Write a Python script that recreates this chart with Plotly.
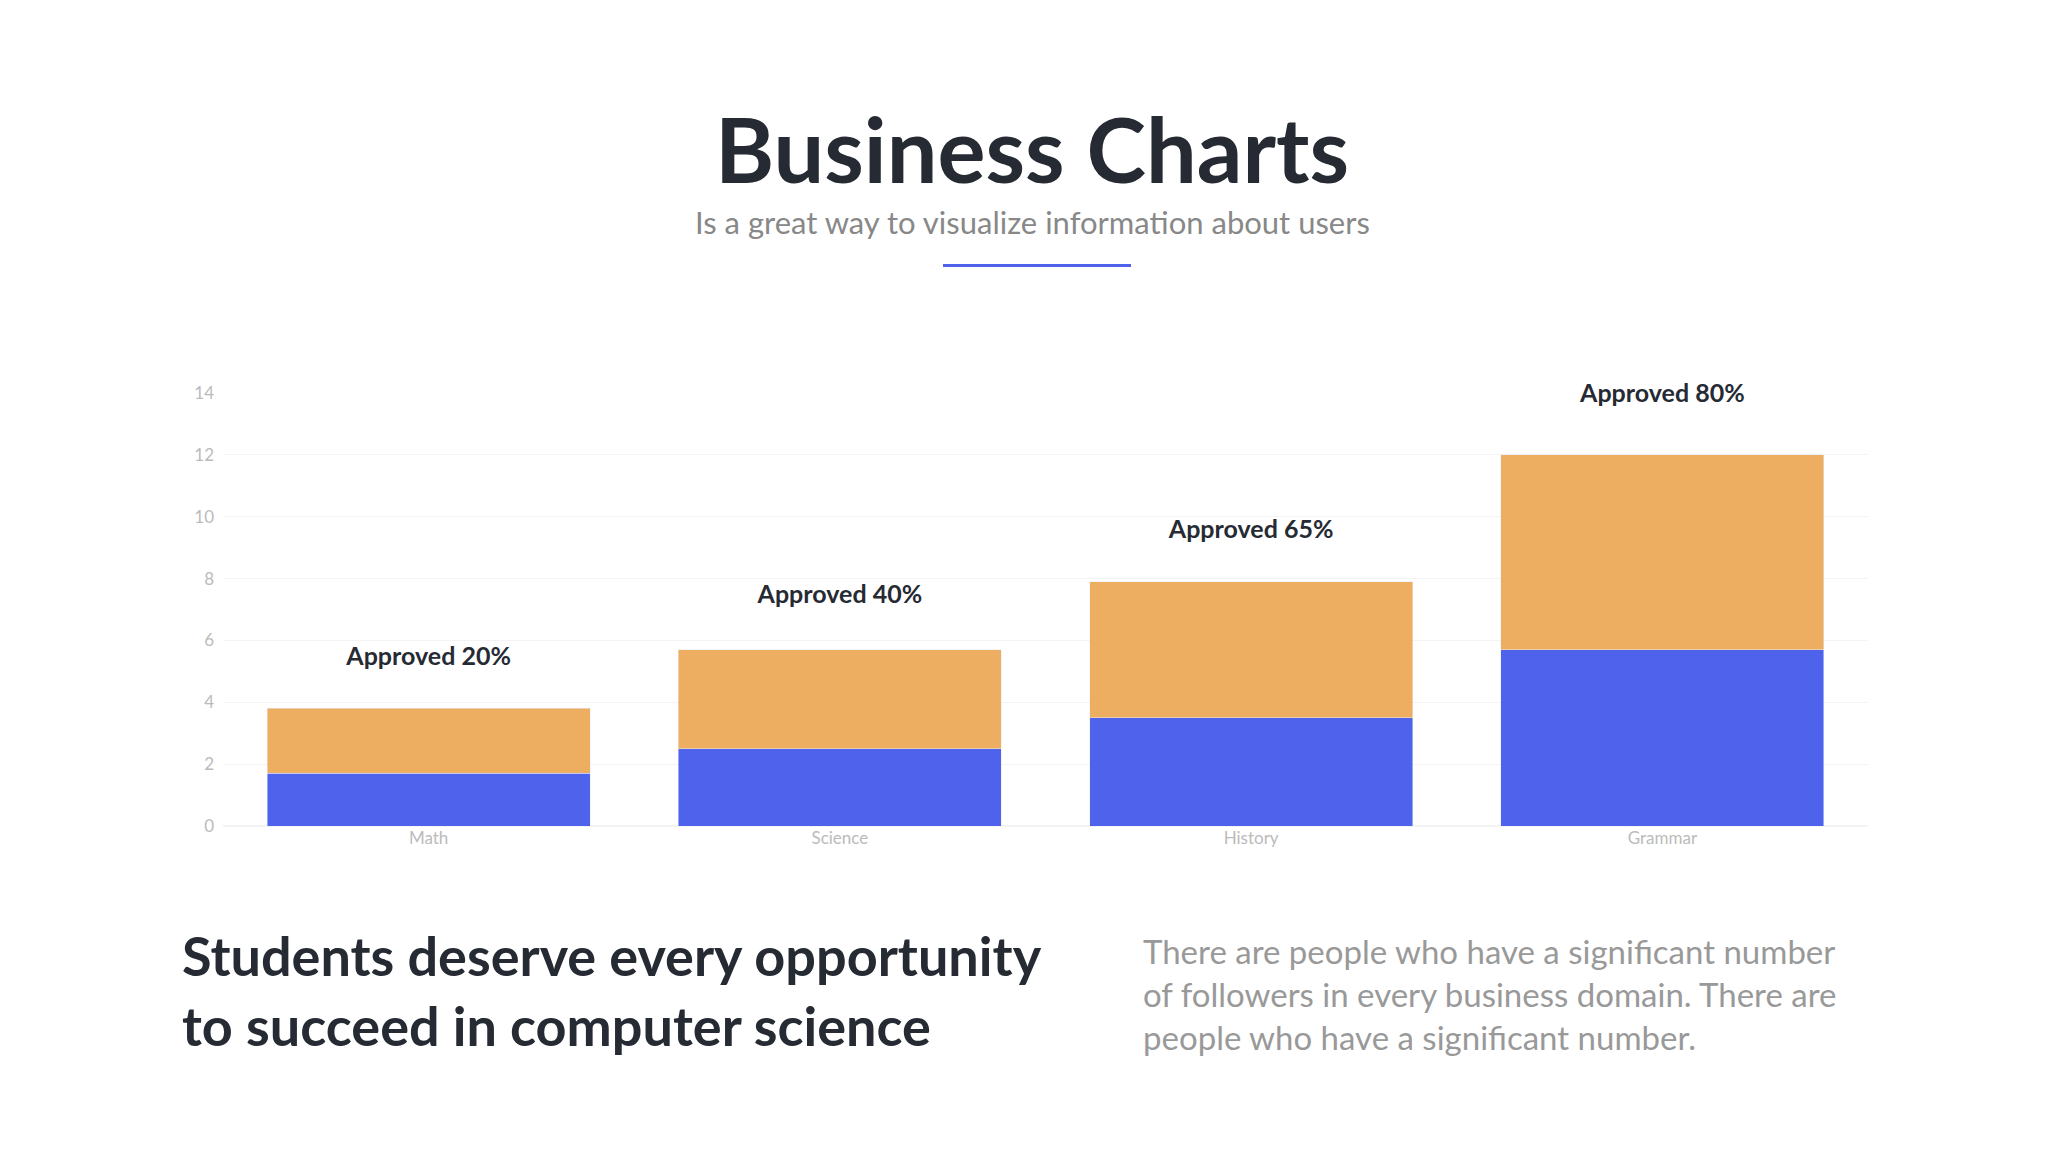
import plotly.graph_objects as go

subjects = ["Math", "Science", "History", "Grammar"]
blue_vals = [1.7, 2.5, 3.5, 5.7]
orange_vals = [2.1, 3.2, 4.4, 6.3]
approved = ["Approved 20%", "Approved 40%", "Approved 65%", "Approved 80%"]
label_y = [5.4, 7.4, 9.5, 13.9]

fig = go.Figure()
fig.add_trace(go.Bar(x=subjects, y=blue_vals, marker_color="#4F62EC", hoverinfo="skip"))
fig.add_trace(go.Bar(x=subjects, y=orange_vals, marker_color="#EEAE62", hoverinfo="skip"))
fig.add_trace(go.Scatter(x=subjects, y=label_y, mode="text", text=approved, cliponaxis=False,
                         textfont=dict(family="Lato", size=25, color="#252A33", weight="bold"),
                         hoverinfo="skip"))

fig.update_layout(
    width=2048, height=1152, barmode="stack", bargap=0.215, showlegend=False,
    plot_bgcolor="white", paper_bgcolor="white",
    margin=dict(l=0, r=0, t=0, b=0),
    xaxis=dict(domain=[215/2048, 1860/2048], showgrid=False, showline=False,
               tickfont=dict(family="Lato", size=17, color="#BBBBBB")),
    yaxis=dict(domain=[1 - 822/1152, 1 - 381/1152], range=[0, 14], dtick=2,
               gridcolor="#F3F3F3", zeroline=True, zerolinecolor="#F3F3F3",
               tickfont=dict(family="Lato", size=17, color="#BBBBBB"), ticklabelstandoff=8),
)

fig.add_annotation(text="<b>Business Charts</b>", x=0.5, y=1 - 131/1152, xref="paper", yref="paper",
                   yanchor="middle", showarrow=False, font=dict(family="Lato", size=90, color="#252A33"))
fig.add_annotation(text="Is a great way to visualize information about users", x=0.5, y=1 - 207/1152,
                   xref="paper", yref="paper", yanchor="middle", showarrow=False,
                   font=dict(family="Lato", size=31, color="#888888"))
fig.add_shape(type="line", x0=935/2048, x1=1123/2048, y0=1 - 251/1152, y1=1 - 251/1152,
              xref="paper", yref="paper", line=dict(color="#4F62EC", width=3))
fig.add_annotation(text="<b>Students deserve every opportunity<br>to succeed in computer science</b>",
                   x=172/2048, y=1 - 990/1152, xref="paper", yref="paper", xanchor="left", yanchor="middle",
                   align="left", showarrow=False, font=dict(family="Lato", size=54, color="#252A33"))
fig.add_annotation(text="There are people who have a significant number<br>of followers in every business domain. There are<br>people who have a significant number.",
                   x=1133/2048, y=1 - 993/1152, xref="paper", yref="paper", xanchor="left", yanchor="middle",
                   align="left", showarrow=False, font=dict(family="Lato", size=33, color="#999999"))

fig.write_html("out.html")
